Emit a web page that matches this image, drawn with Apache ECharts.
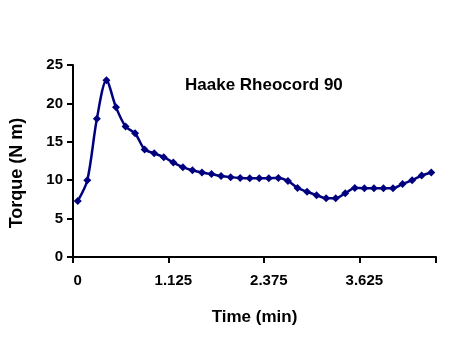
<!DOCTYPE html>
<html><head><meta charset="utf-8">
<script src="https://cdn.jsdelivr.net/npm/echarts@6/dist/echarts.min.js"></script>
<style>html,body{margin:0;padding:0;background:#fff}#c{width:474px;height:354px}</style>
</head><body><div id="c"></div>
<script>
// Time categories (min); tick labels shown every 10 categories
var times = ["0","0.0","0.125","0.25","0.375","0.5","0.625","0.75","0.875","1.0",
  "1.125","1.25","1.375","1.5","1.625","1.75","1.875","2.0","2.125","2.25",
  "2.375","2.5","2.625","2.75","2.875","3.0","3.125","3.25","3.375","3.5",
  "3.625","3.75","3.875","4.0","4.125","4.25","4.375","4.5"];
// Torque (N m)
var torque = [7.3, 10.0, 18.0, 23.0, 19.5, 17.0, 16.1, 14.0, 13.5, 13.0,
  12.3, 11.7, 11.3, 11.0, 10.8, 10.55, 10.4, 10.3, 10.25, 10.25,
  10.25, 10.3, 9.9, 9.0, 8.5, 8.05, 7.65, 7.65, 8.3, 9.0,
  8.95, 8.95, 8.95, 8.95, 9.5, 10.0, 10.6, 11.0];
var yTicks = [0, 5, 10, 15, 20, 25];

var chart = echarts.init(document.getElementById('c'));
var font = 'Liberation Sans, Arial, sans-serif';
chart.setOption({
  animation: false,
  title: {
    text: 'Haake Rheocord 90', left: 180, top: 72,
    textStyle: {fontFamily: font, fontSize: 17, fontWeight: 'bold', color: '#000'}
  },
  grid: {left: 72, right: 38, top: 65, bottom: 97, containLabel: false},
  xAxis: {
    type: 'category', data: times, boundaryGap: true,
    name: 'Time (min)', nameLocation: 'middle', nameGap: 52,
    nameTextStyle: {fontFamily: font, fontSize: 17, fontWeight: 'bold', color: '#000'},
    axisLine: {show: true, lineStyle: {color: '#000', width: 2}},
    axisTick: {show: true, interval: 9, length: 6, lineStyle: {color: '#000', width: 2}},
    axisLabel: {show: true, interval: 9, margin: 16, fontFamily: font, fontSize: 15, fontWeight: 'bold', color: '#000'},
    splitLine: {show: false}
  },
  yAxis: {
    type: 'value', min: yTicks[0], max: yTicks[yTicks.length - 1], interval: 5,
    name: 'Torque (N m)', nameLocation: 'middle', nameGap: 47,
    nameTextStyle: {fontFamily: font, fontSize: 18, fontWeight: 'bold', color: '#000', padding: [0, 0, 0, -24]},
    axisLine: {show: true, lineStyle: {color: '#000', width: 2}},
    axisTick: {show: true, length: 6, lineStyle: {color: '#000', width: 2}},
    axisLabel: {show: true, margin: 10, fontFamily: font, fontSize: 15, fontWeight: 'bold', color: '#000'},
    splitLine: {show: false}
  },
  series: [{
    type: 'line', data: torque, smooth: 0.3,
    symbol: 'diamond', symbolSize: 8, showSymbol: true, showAllSymbol: true,
    lineStyle: {color: '#00007f', width: 2.5},
    itemStyle: {color: '#00007f'}
  }]
});
</script></body></html>
